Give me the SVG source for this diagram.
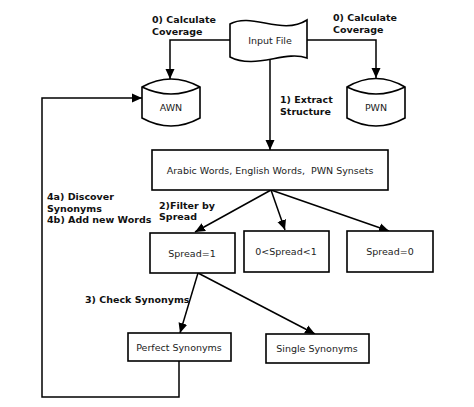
<svg xmlns="http://www.w3.org/2000/svg" width="474" height="407" viewBox="0 0 474 407">
<defs>
<marker id="arr" markerUnits="userSpaceOnUse" markerWidth="10" markerHeight="10" viewBox="0 0 10 10" refX="10" refY="5" orient="auto">
<path d="M0,0.5 L10,5 L0,9.5 Z" fill="#000"/>
</marker>
<style>
.box{fill:#fff;stroke:#000;stroke-width:1.6}
.ln{fill:none;stroke:#000;stroke-width:1.5}
.t{font-family:"DejaVu Sans",sans-serif;font-size:9.5px;fill:#222;text-anchor:middle}
.b{font-family:"DejaVu Sans",sans-serif;font-size:9.5px;font-weight:bold;fill:#111}
</style>
</defs>
<rect width="474" height="407" fill="#fff"/>
<g id="connectors">
<polyline class="ln" points="230,40 170,40 170,79" marker-end="url(#arr)"/>
<polyline class="ln" points="307,40 376,40 376,78" marker-end="url(#arr)"/>
<line class="ln" x1="270" y1="59" x2="270" y2="150" marker-end="url(#arr)"/>
<line class="ln" x1="271" y1="190" x2="195" y2="232" marker-end="url(#arr)"/>
<line class="ln" x1="271" y1="190" x2="285" y2="230" marker-end="url(#arr)"/>
<line class="ln" x1="271" y1="190" x2="389" y2="231" marker-end="url(#arr)"/>
<line class="ln" x1="198" y1="273" x2="180" y2="333" marker-end="url(#arr)"/>
<line class="ln" x1="198" y1="273" x2="315" y2="334" marker-end="url(#arr)"/>
<polyline class="ln" points="179,361 179,397 42,397 42,98 142,98" marker-end="url(#arr)"/>
</g>
<g id="labels">
<text class="b" x="152" y="23">0) Calculate</text>
<text class="b" x="152" y="35">Coverage</text>
<text class="b" x="333" y="21">0) Calculate</text>
<text class="b" x="333" y="33">Coverage</text>
<text class="b" x="280" y="103">1) Extract</text>
<text class="b" x="280" y="115">Structure</text>
<text class="b" x="159" y="209">2)Filter by</text>
<text class="b" x="159" y="220">Spread</text>
<text class="b" x="47" y="200">4a) Discover</text>
<text class="b" x="47" y="211.5">Synonyms</text>
<text class="b" x="47" y="223">4b) Add new Words</text>
<text class="b" x="85" y="303">3) Check Synonyms</text>
</g>
<g id="input-file">
<path class="box" d="M230,24 C252,12 282,36 307,20 L307,58 C285,50 255,70 230,57 Z"/>
<text class="t" x="270" y="44">Input File</text>
</g>
<g id="awn">
<path class="box" d="M142,87 Q171,71 200,87 L200,118 Q171,134 142,118 Z"/>
<path class="ln" d="M142,87 Q171,101 200,87"/>
<text class="t" x="171" y="111">AWN</text>
</g>
<g id="pwn">
<path class="box" d="M347,87 Q376,70 405,87 L405,118 Q376,134 347,118 Z"/>
<path class="ln" d="M347,87 Q376,101 405,87"/>
<text class="t" x="376" y="111">PWN</text>
</g>
<g id="extract">
<rect class="box" x="152" y="150" width="236" height="40"/>
<text class="t" x="270" y="174" xml:space="preserve">Arabic Words, English Words,  PWN Synsets</text>
</g>
<g id="spread1">
<rect class="box" x="150" y="233" width="85" height="40"/>
<text class="t" x="192" y="256.5">Spread=1</text>
</g>
<g id="spread-mid">
<rect class="box" x="244" y="231" width="85" height="41"/>
<text class="t" x="286" y="255">0&lt;Spread&lt;1</text>
</g>
<g id="spread0">
<rect class="box" x="347" y="231" width="86" height="41"/>
<text class="t" x="390" y="255">Spread=0</text>
</g>
<g id="perfect">
<rect class="box" x="128" y="333" width="103" height="28"/>
<text class="t" x="179" y="350.5">Perfect Synonyms</text>
</g>
<g id="single">
<rect class="box" x="266" y="334" width="103" height="29"/>
<text class="t" x="317" y="352">Single Synonyms</text>
</g>
</svg>
